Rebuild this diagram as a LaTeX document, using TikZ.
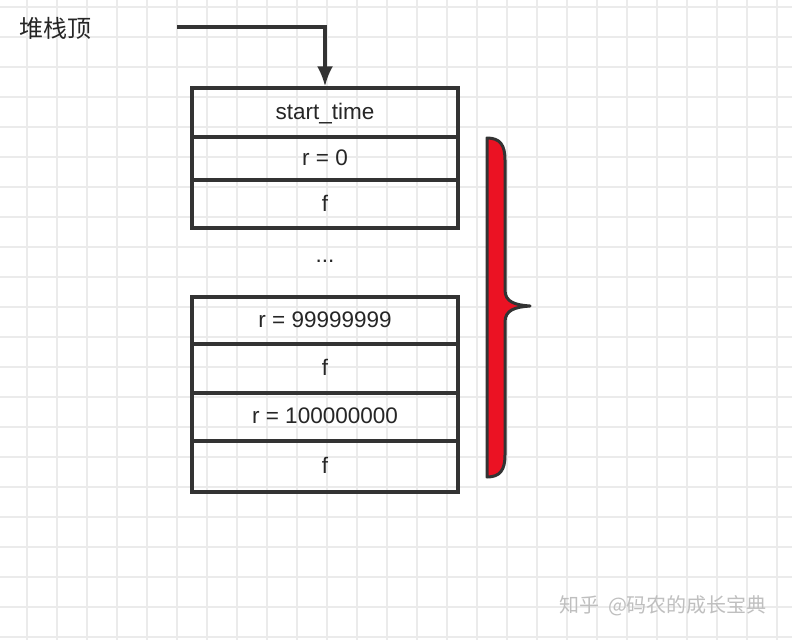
\documentclass[tikz,border=0pt]{standalone}
\usepackage{fontspec}
\setmainfont{Liberation Sans}
\newfontfamily\cjk{Noto Sans CJK SC}
\usetikzlibrary{arrows.meta}
\begin{document}
\begin{tikzpicture}[x=1pt,y=-1pt,
  cell/.style={draw=black!80,line width=3.4pt,minimum width=266pt,inner sep=0pt,text=black!85,text depth=2pt,font=\fontsize{22.5}{26}\selectfont},
  lbl/.style={text=black!85,font=\fontsize{22.5}{26}\selectfont}]
\useasboundingbox (0,0) rectangle (792,640);
\fill[white] (0,0) rectangle (792,640);
\foreach \i in {-3,27,...,792} \draw[black!8,line width=1.4pt] (\i,0) -- (\i,640);
\foreach \j in {7,37,...,640} \draw[black!8,line width=1.4pt] (0,\j) -- (792,\j);
\node[text=black!85,font=\cjk\fontsize{24}{28}\selectfont] (top) at (55,28) {堆栈顶};
\node[cell,minimum height=49pt] (a1) at (325,112.5) {start\_time};
\node[cell,minimum height=43pt] (a2) at (325,158.5) {r = 0};
\node[cell,minimum height=48pt] (a3) at (325,204) {f};
\node[lbl] (dots) at (325,261) {...};
\node[cell,minimum height=47pt] (b1) at (325,320.5) {r = 99999999};
\node[cell,minimum height=49pt] (b2) at (325,368.5) {f};
\node[cell,minimum height=48pt] (b3) at (325,417) {r = 100000000};
\node[cell,minimum height=51pt] (b4) at (325,466.5) {f};
\coordinate (s) at (177,27);
\draw[black!80,line width=3.2pt,-{Latex[length=20pt,width=16pt]}] (s) -| (a1.north);
\draw[fill={rgb,255:red,235;green,18;blue,35},draw=black!80,line width=3pt,line join=round]
 (487,138) -- (487,477) .. controls (500,477) and (505,470) .. (505,455)
 -- (505,322) .. controls (505,310) and (515,307) .. (530,306)
 .. controls (515,305) and (505,302) .. (505,290)
 -- (505,160) .. controls (505,145) and (500,138) .. (487,138) -- cycle;
\node[text=black!25,font=\cjk\fontsize{20}{24}\selectfont] (wm) at (663,606) {知乎\ \ @码农的成长宝典};
\end{tikzpicture}
\end{document}
